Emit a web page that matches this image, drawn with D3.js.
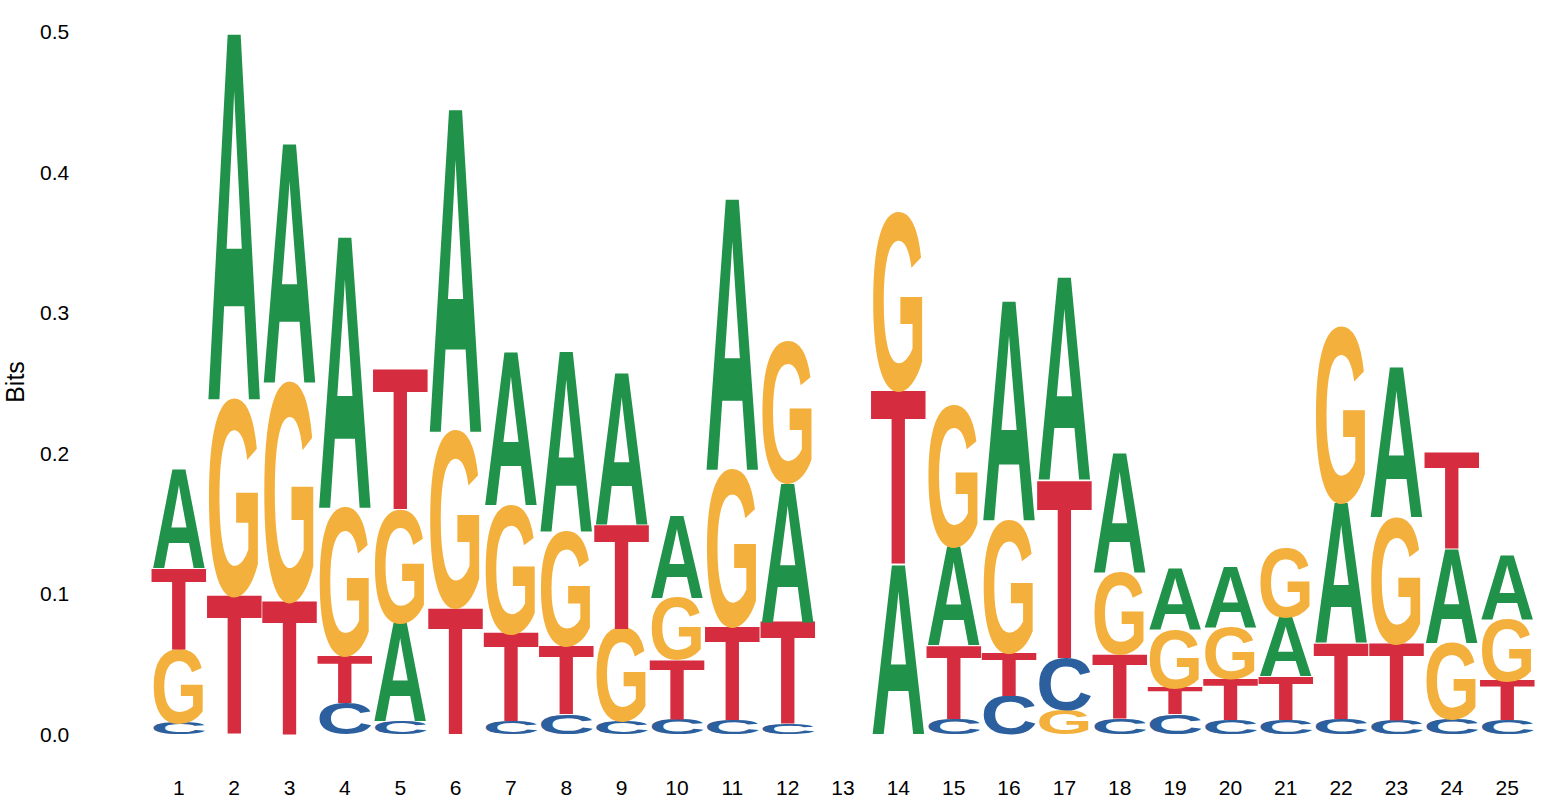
<!DOCTYPE html>
<html><head><meta charset="utf-8">
<script src="https://cdn.jsdelivr.net/npm/d3@7"></script>
<style>body{margin:0;background:#fff}</style>
</head><body>
<svg id="chart" width="1542" height="804"></svg>
<script>
// heights in bits per position 1..25
const positions = d3.range(1, 26);
const A = [.071,.262,.171,.194,.071,.231,.109,.129,.108,.059,.194,.099,0,.121,.071,.157,.145,.085,.044,.043,.042,.100,.107,.067,.046];
const C = [.008,0,0,.022,.009,0,.009,.014,.009,.011,.010,.007,0,0,.011,.027,.037,.011,.014,.010,.010,.011,.010,.011,.010];
const G = [.052,.139,.155,.105,.080,.125,.091,.081,.066,.044,.111,.100,0,.126,.100,.094,.017,.058,.041,.037,.049,.124,.089,.054,.044];
const T = [.058,.099,.095,.034,.100,.090,.063,.049,.074,.042,.067,.073,0,.124,.052,.031,.127,.046,.019,.029,.031,.054,.055,.069,.028];
const yTicks = [0, 0.1, 0.2, 0.3, 0.4, 0.5];
const colors = {A: "#21924a", C: "#2b5f9d", G: "#f4b03c", T: "#d62c3f"};

const svg = d3.select("#chart");
const x = d3.scaleBand().domain(positions).range([152, 1534]).paddingInner(0.03);
const y = d3.scaleLinear().domain([0, 0.5]).range([734, 31]);

yTicks.forEach(t => {
  svg.append("text").attr("x", 40).attr("y", y(t) + 8).text(t.toFixed(1))
    .style("font-family", "Liberation Sans, Arial, sans-serif").style("font-size", "21px");
});
svg.append("text").attr("transform", "translate(24,382) rotate(-90)")
  .attr("text-anchor", "middle").text("Bits")
  .style("font-family", "Liberation Sans, Arial, sans-serif").style("font-size", "25px");
positions.forEach(p => {
  svg.append("text").attr("x", x(p) + x.bandwidth() / 2).attr("y", 795)
    .attr("text-anchor", "middle").text(p)
    .style("font-family", "Liberation Sans, Arial, sans-serif").style("font-size", "21px");
});

const capH = 69.5; // cap height at font-size 100
const glyphW = {A: 70, C: 68, G: 74, T: 58};
const g = svg.append("g");
positions.forEach((p, i) => {
  let stack = [["A", A[i]], ["C", C[i]], ["G", G[i]], ["T", T[i]]]
    .filter(d => d[1] > 0).sort((a, b) => a[1] - b[1]);
  let base = 0;
  stack.forEach(([letter, h]) => {
    const y0 = y(base), y1 = y(base + h);
    const ph = y0 - y1;
    const w = x.bandwidth();
    const sx = w / glyphW[letter], sy = ph / capH;
    g.append("text")
      .attr("transform", `translate(${x(p) + w / 2},${y0}) scale(${sx},${sy})`)
      .attr("text-anchor", "middle")
      .style("font-family", "Liberation Sans, Arial, sans-serif")
      .style("font-weight", "bold").style("font-size", "100px")
      .style("fill", colors[letter]).text(letter);
    base += h;
  });
});
</script>
</body></html>
